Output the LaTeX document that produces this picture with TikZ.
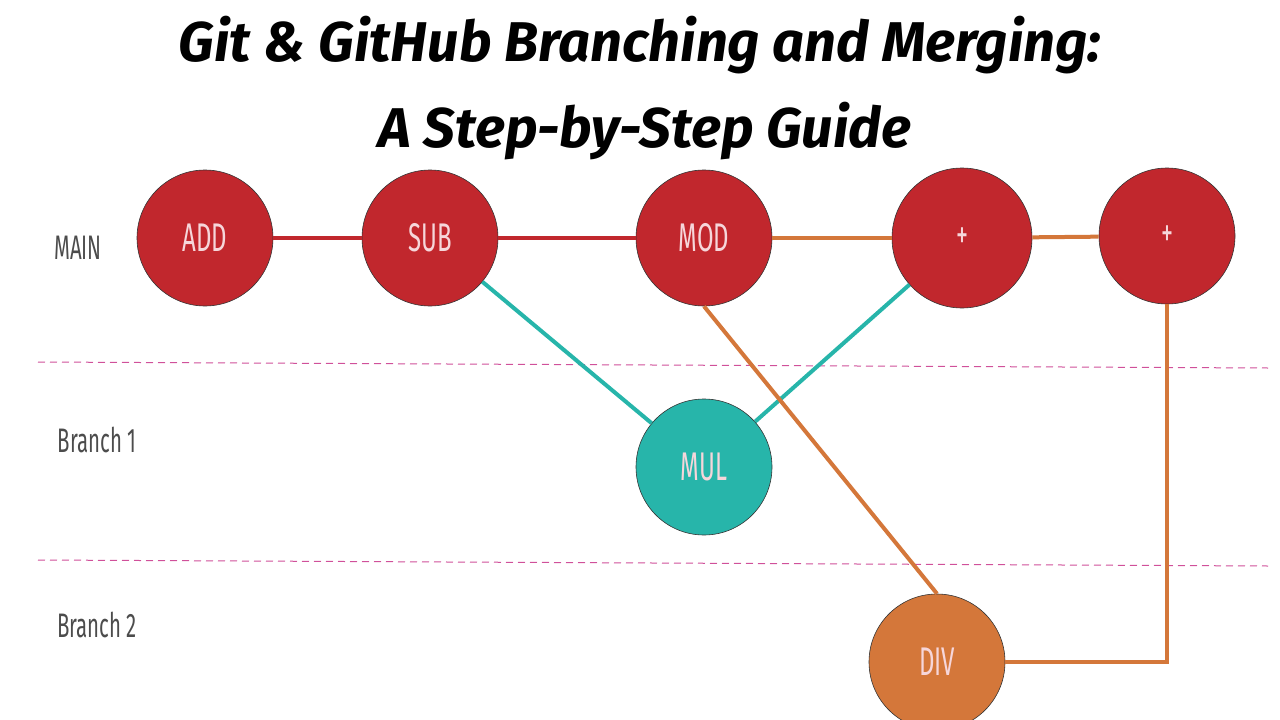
\documentclass[tikz,border=0pt]{standalone}
\usepackage{fontspec}
\setmainfont{Fira Sans}
\definecolor{cred}{HTML}{C1272D}
\definecolor{cteal}{HTML}{27B5AA}
\definecolor{corange}{HTML}{D4773A}
\definecolor{cpink}{HTML}{D0509A}
\definecolor{ctxt}{HTML}{F6D6DA}
\begin{document}
\begin{tikzpicture}[x=1pt,y=-1pt,
  commit/.style={circle,draw=black!80,line width=0.6pt,minimum size=136pt,inner sep=0pt},
  ctext/.style={text=ctxt,font=\fontsize{40}{40}\fontseries{l}\selectfont,xscale=0.6},
  lane/.style={text=black!70,font=\fontsize{34}{34}\fontseries{l}\selectfont,xscale=0.6},
  link/.style={line width=4pt},
  sep/.style={cpink,line width=1pt,dash pattern=on 7pt off 5pt},
  title/.style={font=\fontsize{56}{56}\bfseries\itshape\selectfont,text=black}]
\useasboundingbox (0,0) rectangle (1280,720);
\node[title] (t1) at (640,45) {Git \& GitHub Branching and Merging:};
\node[title] (t2) at (645,131) {A Step-by-Step Guide};
\coordinate (d1a) at (38,362); \coordinate (d1b) at (1268,368);
\coordinate (d2a) at (38,560); \coordinate (d2b) at (1268,566);
\draw[sep] (d1a) -- (d1b);
\draw[sep] (d2a) -- (d2b);
\node[lane] (lm) at (78,248) {MAIN};
\node[lane] (l1) at (97,440) {Branch 1};
\node[lane] (l2) at (97,625) {Branch 2};
\node[commit,fill=cred] (add) at (205,238) {};
\node[commit,fill=cred] (sub) at (430,238) {};
\node[commit,fill=cred] (mod) at (704,238) {};
\node[commit,fill=cred,minimum size=140pt] (p1) at (962,238) {};
\node[commit,fill=cred] (p2) at (1167,236) {};
\node[commit,fill=cteal] (mul) at (704,467) {};
\node[commit,fill=corange] (div) at (937,662) {};
\coordinate (corner) at (1167,662);
\draw[link,cred] (add) -- (sub);
\draw[link,cred] (sub) -- (mod);
\draw[link,corange] (mod) -- (p1);
\draw[link,corange] (p1) -- (p2);
\draw[link,cteal] (sub) -- (mul);
\draw[link,cteal] (mul) -- (p1);
\draw[link,corange] (mod.south) -- (div.north);
\draw[link,corange] (p2.south) -- (corner) -- (div);
\node[ctext] (tadd) at (add) {ADD};
\node[ctext] (tsub) at (sub) {SUB};
\node[ctext] (tmod) at (mod) {MOD};
\node[ctext] (tp1) at (p1) {+};
\node[ctext] (tp2) at (p2) {+};
\node[ctext] (tmul) at (mul) {MUL};
\node[ctext] (tdiv) at (div) {DIV};
\end{tikzpicture}
\end{document}
